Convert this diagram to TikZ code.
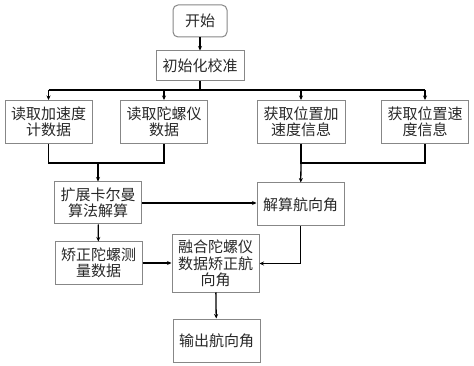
\documentclass[tikz,border=0pt]{standalone}
\usepackage{fontspec}
\setmainfont{Noto Sans CJK SC}
\usepackage{xcolor}
\usetikzlibrary{arrows.meta, positioning, calc}
\definecolor{bordegris}{RGB}{135,135,135}
\definecolor{textogris}{RGB}{40,40,40}

\begin{document}
\begin{tikzpicture}[x=1pt, y=-1pt,
      caja/.style={draw=bordegris, line width=1pt, fill=white,
                   minimum width=87pt, minimum height=43pt, inner sep=2pt,
                   align=center, text=textogris,
                   font=\fontsize{15}{16.5}\selectfont},
      inicio/.style={caja, rounded corners=5pt, minimum width=54pt,
                     minimum height=32pt},
      flecha/.style={-{Stealth[length=4.5pt, width=4pt]}, line width=1.3pt},
      linea/.style={line width=1.3pt},
      >=Stealth]
    \useasboundingbox (0,0) rectangle (474,366);
    \node[inicio] (S) at (200,21) {开始};
    \node[caja, minimum width=88pt, minimum height=30pt] (C) at (200,66) {初始化校准};
    \node[caja] (R1) at (48.5,122) {读取加速度\\计数据};
    \node[caja] (R2) at (164,122) {读取陀螺仪\\数据};
    \node[caja, minimum width=88pt] (R3) at (301,122) {获取位置加\\速度信息};
    \node[caja] (R4) at (425,122) {获取位置速\\度信息};
    \node[caja, minimum height=42pt] (E) at (98,203) {扩展卡尔曼\\算法解算};
    \node[caja] (H) at (300.5,204.5) {解算航向角};
    \node[caja, minimum height=42pt] (G) at (98.5,263) {矫正陀螺测\\量数据};
    \node[caja, minimum height=57pt] (F) at (215.5,263.5) {融合陀螺仪\\数据矫正航\\向角};
    \node[caja] (O) at (216.5,340.5) {输出航向角};
    % conexiones
    \coordinate (b) at (200,90);
    \coordinate (jl) at (98,163);
    \coordinate (jr) at (301,163);
    \draw[flecha] (S) -- (C);
    \draw[linea] (C) -- (b);
    \draw[linea] (b -| R1) -- (b -| R4);
    \foreach \r in {R1,R2,R3,R4}
      \draw[flecha] (b -| \r) -- (\r.north);
    \draw[linea] (R1) |- (jl) -| (R2);
    \draw[linea] (R3) |- (jr) -| (R4);
    \draw[flecha] (jl) -- (E);
    \draw[flecha] (jr) -- (H);
    \draw[flecha] (E.east) -- (H.west |- E.east);
    \draw[flecha] (E) -- (G);
    \draw[flecha] (G.east) -- (F.west |- G.east);
    \draw[flecha] (H) |- (F.east);
    \draw[flecha] (F) -- (O);
  \end{tikzpicture}
\end{document}
